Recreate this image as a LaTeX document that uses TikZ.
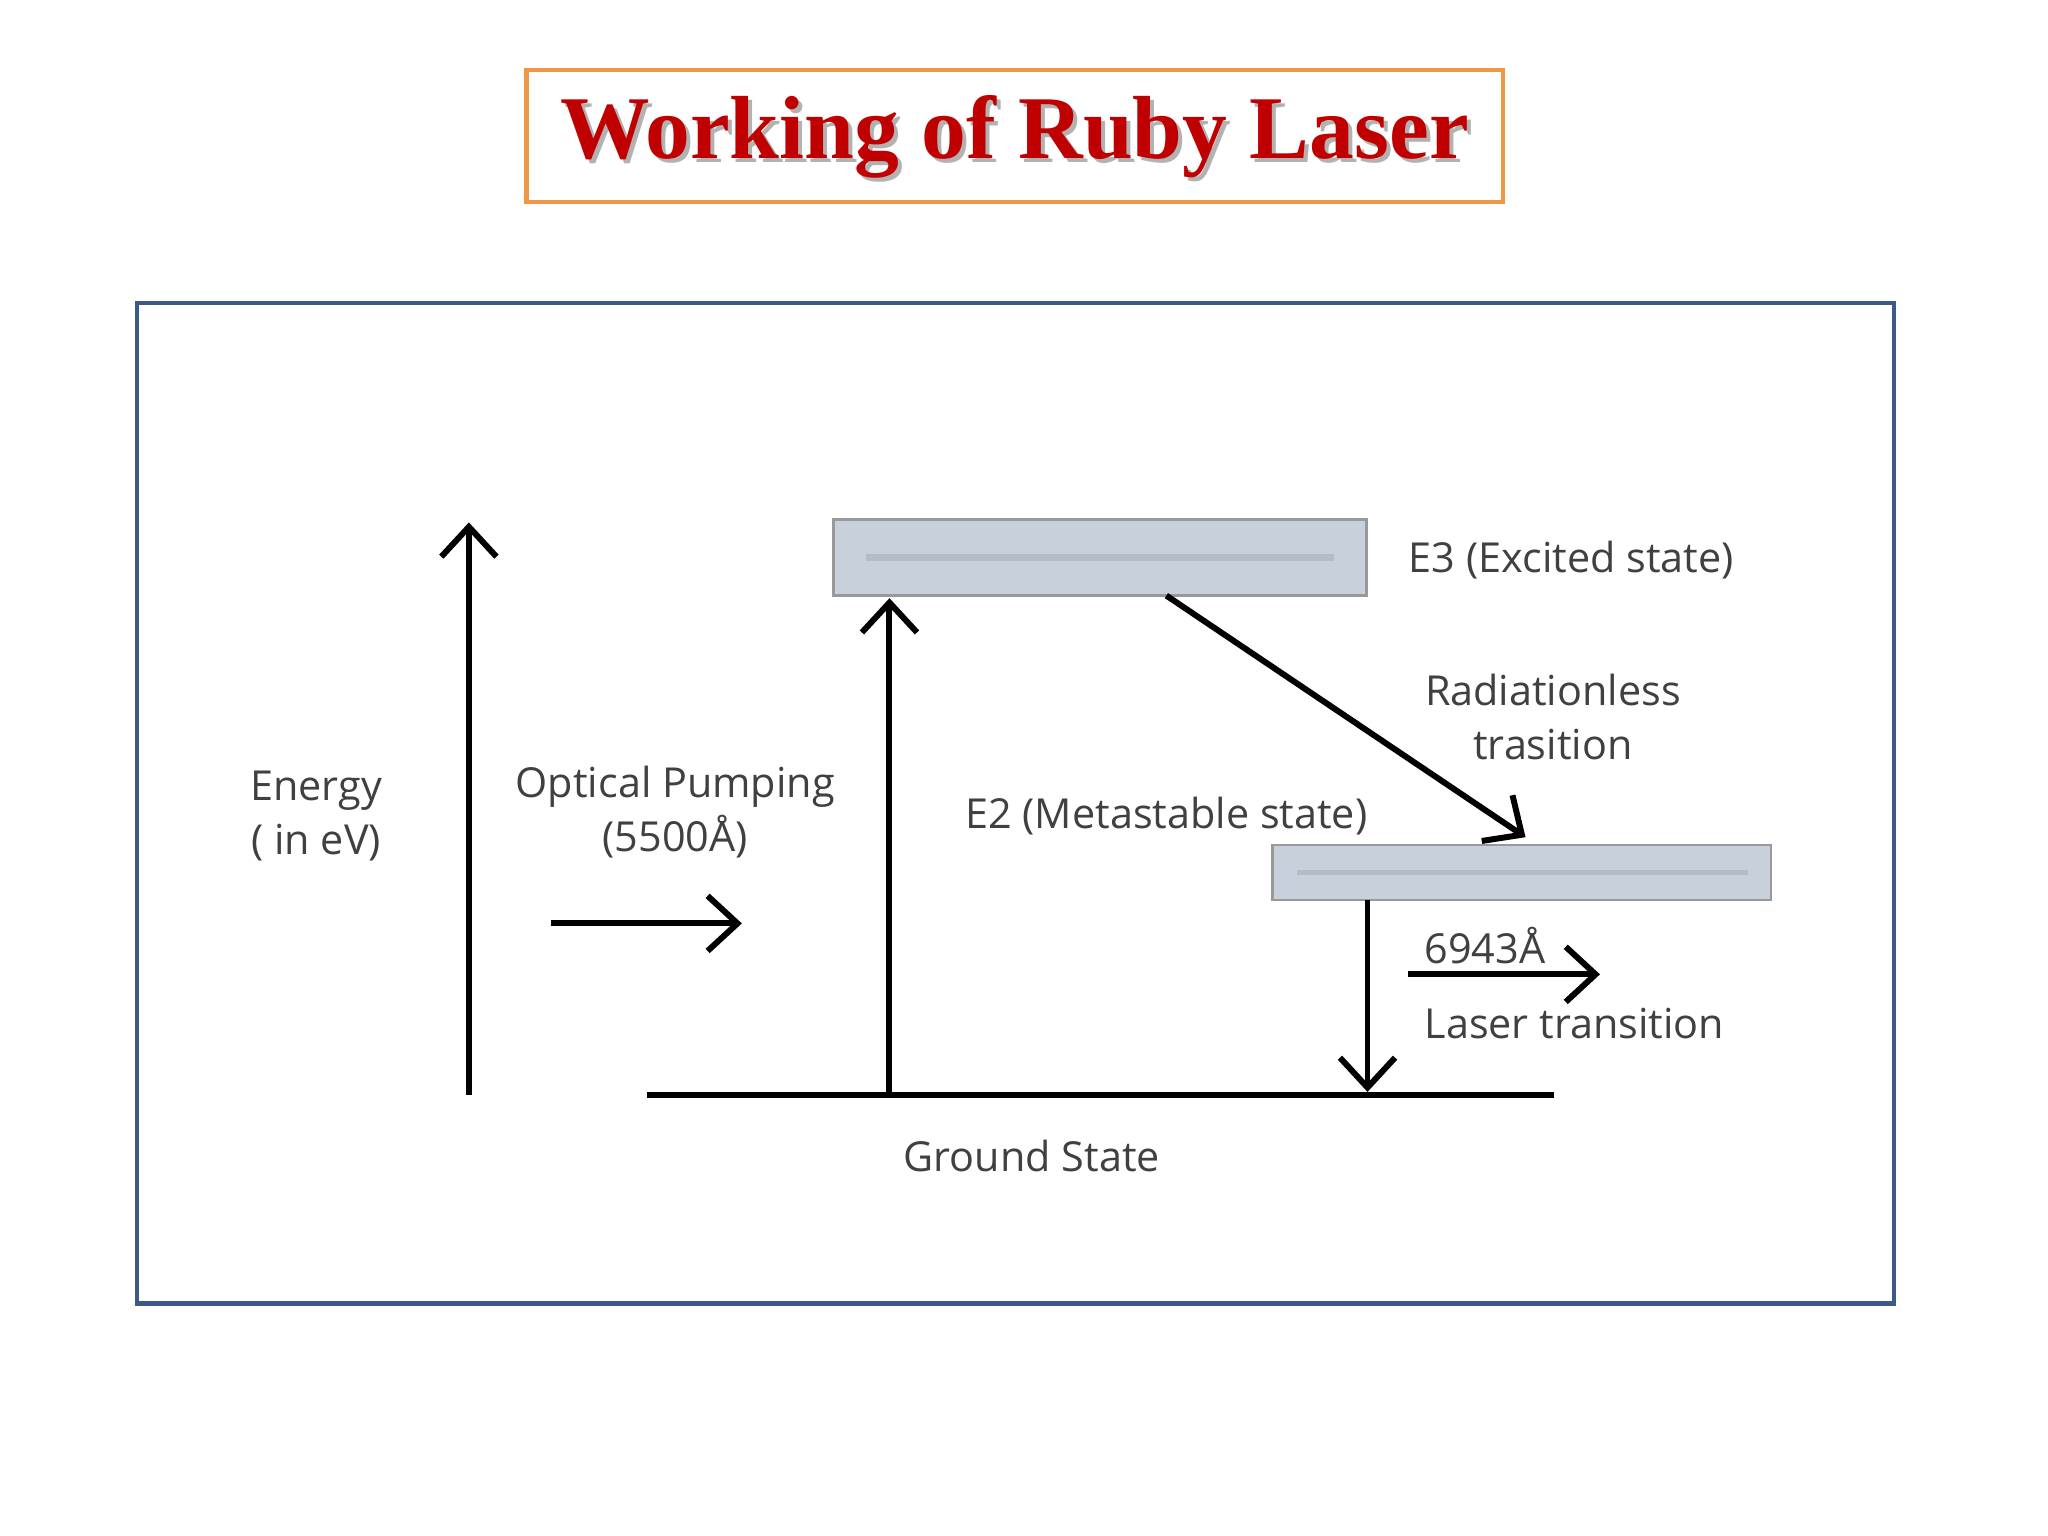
\documentclass[tikz,border=0pt]{standalone}
\usepackage{fontspec}
\setmainfont{Open Sans}
\newfontfamily\titlefont{Liberation Serif}
\usetikzlibrary{arrows.meta}
\definecolor{frameblue}{HTML}{3B5A8A}
\definecolor{lvlfill}{HTML}{C8D0DC}
\definecolor{lvlline}{HTML}{B3BCC8}
\definecolor{titlered}{HTML}{C00000}
\definecolor{txt}{HTML}{404040}
\begin{document}
\begin{tikzpicture}[x=0.01cm,y=-0.01cm,
  arr/.style={line width=1.3pt,-{Straight Barb[length=6.5pt,width=12pt,line width=1.3pt]}},
  lbl/.style={font=\fontsize{9pt}{11.8pt}\selectfont,text=txt,align=center,inner sep=0pt},
  lvl/.style={draw=gray!80,fill=lvlfill,line width=0.6pt}]
\useasboundingbox (0,0) rectangle (1568,1176);
\fill[white] (0,0) rectangle (1568,1176);
% title
\node[draw={rgb,255:red,240;green,150;blue,70},line width=1pt,minimum width=7.47cm,minimum height=1.01cm] (title) at (777,104) {};
\node[text=gray!60,font=\titlefont\bfseries\fontsize{19.5pt}{22pt}\selectfont] at (780,108) {Working of Ruby Laser};
\node[text=titlered,font=\titlefont\bfseries\fontsize{19.5pt}{22pt}\selectfont] (tt) at (777,105) {Working of Ruby Laser};
% frame
\draw[frameblue,line width=1pt] (105,232) rectangle (1450,998);
% levels
\draw[lvl] (638,398) rectangle (1046,456);
\draw[lvlline,line width=1.5pt] (663,427) -- (1021,427);
\draw[lvl] (974,647) rectangle (1356,689);
\draw[lvlline,line width=1.2pt] (993,668) -- (1338,668);
\coordinate (e3b) at (681,458);
\coordinate (e3d) at (893,456);
\coordinate (e2t) at (1168,641);
\coordinate (e2b) at (1047,689);
% ground
\coordinate (gl) at (495,838); \coordinate (gr) at (1190,838);
\draw[line width=1.3pt] (gl) -- (gr);
\coordinate (g1) at (681,838); \coordinate (g2) at (1047,836);
% energy axis
\coordinate (ea) at (359,838); \coordinate (eb) at (359,400);
\draw[arr] (ea) -- (eb);
\draw[arr] (g1) -- (e3b);
\draw[arr] (e3d) -- (e2t);
\draw[arr] (e2b) -- (g2);
\coordinate (pa) at (422,707); \coordinate (pb) at (568,707);
\draw[arr] (pa) -- (pb);
\coordinate (la) at (1078,746); \coordinate (lb) at (1225,746);
\draw[arr] (la) -- (lb);
% labels
\node[lbl] (en) at (242,625) {Energy\\( in eV)};
\node[lbl] (op) at (517,622) {Optical Pumping\\(5500Å)};
\node[lbl,anchor=west] (e3l) at (1078,429) {E3 (Excited state)};
\node[lbl] (rt) at (1189,549) {Radiationless\\trasition};
\node[lbl] (e2l) at (893,625) {E2 (Metastable state)};
\node[lbl,anchor=west] (wl) at (1090,724) {6943Å};
\node[lbl,anchor=west] (lt) at (1090,784) {Laser transition};
\node[lbl] (gs) at (790,885) {Ground State};
\end{tikzpicture}
\end{document}
